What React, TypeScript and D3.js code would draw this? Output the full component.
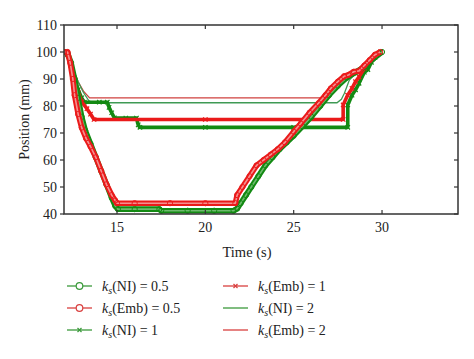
import React from 'react';
import * as d3 from 'd3';

// [time (s), position (mm)]
const niHalf: [number, number][] = [
  [12.0, 100], [12.2, 99.5], [12.4, 96], [12.6, 90], [12.8, 83], [13.0, 76], [13.2, 71], [13.5, 66],
  [13.8, 61], [14.1, 56], [14.4, 51], [14.7, 46], [14.9, 43], [15.05, 41.8], [16, 41.8], [17.4, 41.8],
  [17.5, 41.2], [19, 41.2], [20.5, 41.2], [21.6, 41.2], [21.8, 42], [22.0, 44], [22.3, 47], [22.6, 50],
  [23.0, 54], [23.4, 58], [23.8, 61], [24.2, 64], [24.6, 66.5], [25.0, 69], [25.5, 72.5], [26.0, 76],
  [26.5, 80], [27.0, 84], [27.5, 87.5], [28.0, 90.5], [28.5, 92.5], [29.0, 94.5], [29.5, 97.5], [30.0, 100],
];
const embHalf: [number, number][] = [
  [12.0, 100], [12.2, 100], [12.35, 96], [12.5, 90], [12.6, 84], [12.8, 77], [13.0, 72], [13.25, 68],
  [13.5, 65], [13.8, 61], [14.1, 56], [14.4, 51], [14.7, 47], [14.9, 45], [15.0, 44], [16, 44], [18, 44],
  [20, 44], [21.7, 44], [21.8, 47], [22.1, 50], [22.5, 54], [22.9, 58], [23.3, 60], [23.7, 62], [24.1, 64],
  [24.5, 66.5], [25.0, 70.5], [25.4, 73.5], [25.9, 77.5], [26.4, 81], [26.8, 84], [27.1, 86.5], [27.5, 89],
  [27.85, 91], [28.1, 91.5], [28.4, 92.7], [28.7, 93], [29.0, 95], [29.3, 97], [29.6, 99], [29.9, 100],
];
const niOne: [number, number][] = [
  [12.0, 100], [12.2, 99], [12.4, 95], [12.6, 90], [12.8, 86], [13.0, 83], [13.15, 81.4], [14.0, 81.4],
  [14.45, 81.4], [14.55, 79.5], [14.7, 77.5], [14.85, 75.6], [15.5, 75.5], [16.1, 75.5], [16.2, 73],
  [16.3, 72.1], [20, 72.1], [25, 72.1], [28.06, 72.1], [28.06, 80.4], [28.3, 84], [28.5, 86], [28.7, 88.4],
  [29.0, 92.5], [29.2, 93.5], [29.4, 96.2], [29.6, 98], [29.8, 99.5], [29.9, 100],
];
const embOne: [number, number][] = [
  [12.0, 100], [12.2, 99], [12.4, 95], [12.6, 90], [12.8, 85], [13.0, 81.5], [13.3, 79], [13.5, 77],
  [13.7, 75], [20, 75], [27.8, 75], [27.8, 80.4], [28.05, 84], [28.3, 86.5], [28.5, 89], [28.7, 90.8],
  [29.0, 94], [29.3, 96.5], [29.6, 98.5], [29.9, 100],
];
const niTwo: [number, number][] = [
  [12.0, 100], [12.2, 99], [12.5, 94], [12.8, 89], [13.1, 85], [13.4, 82], [13.6, 81.2], [20, 81.2],
  [27.45, 81.2], [27.7, 82.5], [27.87, 84.7], [28.15, 89.6], [28.5, 92], [29.0, 95], [29.5, 98], [29.9, 100],
];
const embTwo: [number, number][] = [
  [12.0, 100], [12.2, 99.5], [12.5, 94], [12.8, 89], [13.1, 85.5], [13.45, 83], [20, 83], [26.9, 83],
  [27.3, 86], [27.7, 89], [28.1, 91], [28.6, 92.5], [29.1, 95], [29.5, 97.5], [29.9, 100],
];

const xTicks = [15, 20, 25, 30];
const yTicks = [40, 50, 60, 70, 80, 90, 100, 110];

const GREEN = '#138a13';
const RED = '#ea1a1a';

const series = [
  { key: 'emb2', data: embTwo, color: '#d0413f', marker: 'none', group: 'NI', label: 'Emb', val: '2' },
  { key: 'ni2', data: niTwo, color: '#3f9a55', marker: 'none', label: 'NI', val: '2' },
  { key: 'ni1', data: niOne, color: GREEN, marker: 'x', label: 'NI', val: '1' },
  { key: 'emb1', data: embOne, color: RED, marker: 'x', label: 'Emb', val: '1' },
  { key: 'ni05', data: niHalf, color: GREEN, marker: 'o', label: 'NI', val: '0.5' },
  { key: 'emb05', data: embHalf, color: RED, marker: 'o', label: 'Emb', val: '0.5' },
];

const legendOrder = [
  { label: 'NI', val: '0.5', color: '#3b9a3b', marker: 'o' },
  { label: 'Emb', val: '0.5', color: '#d9403f', marker: 'o' },
  { label: 'NI', val: '1', color: '#3b9a3b', marker: 'x' },
  { label: 'Emb', val: '1', color: '#d9403f', marker: 'x' },
  { label: 'NI', val: '2', color: '#3b9a3b', marker: 'none' },
  { label: 'Emb', val: '2', color: '#d9403f', marker: 'none' },
];

const W = 474;
const H = 359;
const m = { left: 64, right: 16, top: 25, bottom: 145 };
const serif = '"Liberation Serif", "DejaVu Serif", serif';

function Cross({ x, y, s, color }: { x: number; y: number; s: number; color: string }) {
  return (
    <path d={`M${x - s},${y - s}L${x + s},${y + s}M${x - s},${y + s}L${x + s},${y - s}`} stroke={color} strokeWidth={1.2} />
  );
}

export default function App() {
  const x = d3.scaleLinear().domain([12, 34.3]).range([m.left, W - m.right]);
  const y = d3.scaleLinear().domain([40, 110]).range([H - m.bottom, m.top]);
  const line = d3.line<[number, number]>().x(d => x(d[0])).y(d => y(d[1]));
  const x0 = m.left, x1 = W - m.right, y0 = m.top, y1 = H - m.bottom;

  return (
    <svg width={W} height={H} style={{ position: 'absolute', left: 0, top: 0, background: '#fff' }} fontFamily={serif}>
      <defs>
        <clipPath id="plot"><rect x={x0} y={y0 - 4} width={x1 - x0} height={y1 - y0 + 4} /></clipPath>
      </defs>
      <g clipPath="url(#plot)">
        {series.map(s => {
          const d = line(s.data) || '';
          if (s.marker === 'none') {
            return <path key={s.key} d={d} fill="none" stroke={s.color} strokeWidth={1.3} />;
          }
          if (s.marker === 'x') {
            return (
              <g key={s.key}>
                <path d={d} fill="none" stroke={s.color} strokeWidth={3.6} strokeLinejoin="round" />
                {s.data.map((p, i) => <Cross key={i} x={x(p[0])} y={y(p[1])} s={2.2} color={s.color} />)}
              </g>
            );
          }
          const tint = s.color === RED ? '#f59090' : '#6dba6d';
          return (
            <g key={s.key}>
              <path d={d} fill="none" stroke={s.color} strokeWidth={5.6} strokeLinejoin="round" />
              <path d={d} fill="none" stroke={tint} strokeWidth={1.6} strokeLinejoin="round" />
              {s.data.map((p, i) => (
                <circle key={i} cx={x(p[0])} cy={y(p[1])} r={2.6} fill="none" stroke={s.color} strokeWidth={1} />
              ))}
            </g>
          );
        })}
      </g>

      {/* frame + ticks */}
      <rect x={x0} y={y0} width={x1 - x0} height={y1 - y0} fill="none" stroke="#333" strokeWidth={1.5} />
      {xTicks.map(t => (
        <g key={t}>
          <line x1={x(t)} x2={x(t)} y1={y1} y2={y1 - 4} stroke="#333" strokeWidth={1.2} />
          <line x1={x(t)} x2={x(t)} y1={y0} y2={y0 + 4} stroke="#333" strokeWidth={1.2} />
          <text x={x(t)} y={y1 + 18} textAnchor="middle" fontSize={14} fill="#222">{t}</text>
        </g>
      ))}
      {yTicks.map(t => (
        <g key={t}>
          <line x1={x0 - 4} x2={x0} y1={y(t)} y2={y(t)} stroke="#333" strokeWidth={1.2} />
          <line x1={x1 - 4} x2={x1} y1={y(t)} y2={y(t)} stroke="#333" strokeWidth={1.2} />
          <text x={57} y={y(t) + 5} textAnchor="end" fontSize={14} fill="#222">{t}</text>
        </g>
      ))}
      <text x={247} y={257} textAnchor="middle" fontSize={14.5} fill="#222">Time (s)</text>
      <text transform={`translate(29,${(y0 + y1) / 2}) rotate(-90)`} textAnchor="middle" fontSize={14} fill="#222">Position (mm)</text>

      {/* legend */}
      {legendOrder.map((l, i) => {
        const col = Math.floor(i / 3);
        const row = i % 3;
        const lx = col === 0 ? 67 : 223;
        const ly = 286 + row * 22;
        const tx = col === 0 ? 102 : 258;
        return (
          <g key={i}>
            <line x1={lx} x2={lx + 25} y1={ly} y2={ly} stroke={l.color} strokeWidth={1.3} />
            {l.marker === 'o' && <circle cx={lx + 12.5} cy={ly} r={3.3} fill="#fff" stroke={l.color} strokeWidth={1.2} />}
            {l.marker === 'x' && <Cross x={lx + 12.5} y={ly} s={2} color={l.color} />}
            <text x={tx} y={ly + 5} fontSize={14} fill="#222">
              <tspan fontStyle="italic">k</tspan>
              <tspan fontStyle="italic" fontSize={10} dy={3}>s</tspan>
              <tspan dy={-3}>{`(${l.label}) = ${l.val}`}</tspan>
            </text>
          </g>
        );
      })}
    </svg>
  );
}
